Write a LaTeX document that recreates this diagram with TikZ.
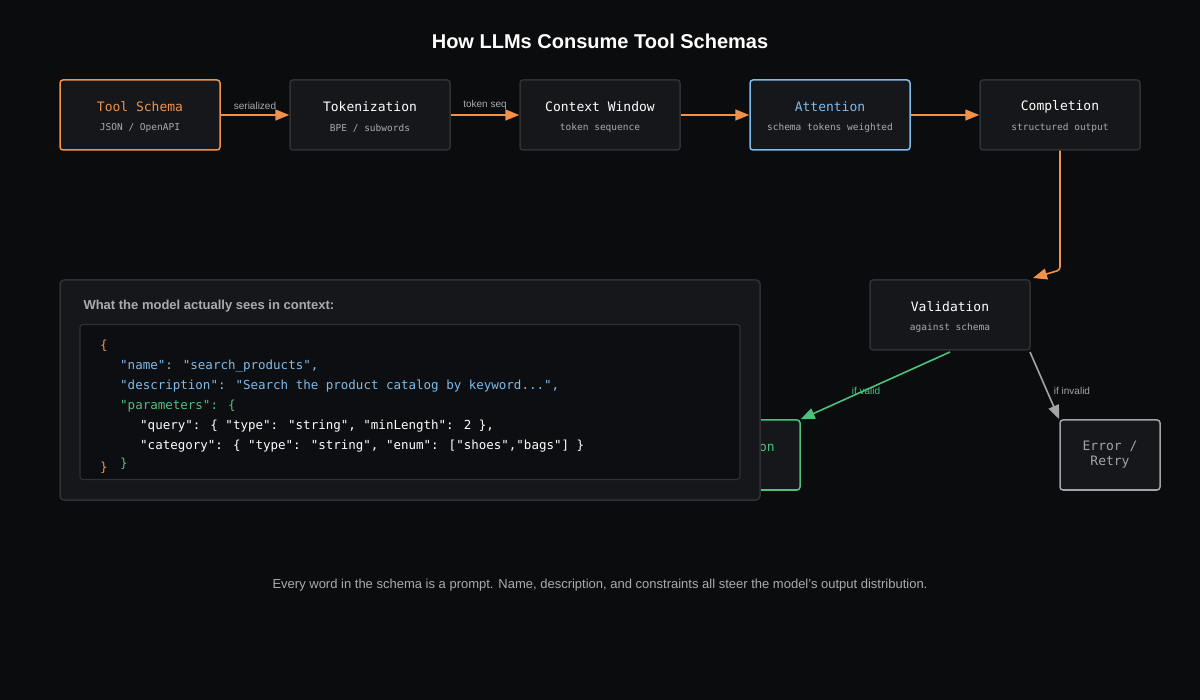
\documentclass[tikz,border=0pt]{standalone}
\usepackage{fontspec}
\setmainfont{Liberation Sans}
\newfontfamily\codefont{DejaVu Sans Mono}
\usetikzlibrary{backgrounds,arrows.meta}
\definecolor{bgdark}{HTML}{0B0C0E}
\definecolor{boxfill}{HTML}{16171B}
\definecolor{boxline}{HTML}{2E3036}
\definecolor{accorange}{HTML}{F0924A}
\definecolor{accblue}{HTML}{7DBBEB}
\definecolor{accgreen}{HTML}{4CC17E}
\definecolor{accgray}{HTML}{A2A4A8}
\definecolor{subtext}{HTML}{A9ABAF}
\definecolor{codebg}{HTML}{0D0E11}
\begin{document}
\begin{tikzpicture}[x=1pt,y=-1pt]
        %
        % `stage' is used for the pipeline boxes.
        % `flow' is used for the connectors.
        \tikzstyle{stage} = [draw=boxline,fill=boxfill,line width=1.5pt,rounded corners=3pt,minimum width=160pt,minimum height=70pt]
        \tikzstyle{flow} = [draw=accorange,line width=1.6pt,-{Triangle[length=14pt,width=11pt]}]
        \tikzstyle{title} = [font=\codefont\fontsize{13}{15}\selectfont]
        \tikzstyle{sub} = [font=\codefont\fontsize{9.5}{11}\selectfont,text=subtext]
        \tikzstyle{code} = [font=\codefont\fontsize{12.5}{14}\selectfont,anchor=west,inner sep=0pt]
        \tikzstyle{edgelab} = [font=\fontsize{10}{12}\selectfont,text=subtext]
        %
        % Background
        \fill[bgdark] (0,0) rectangle (1200,700);
        \node[font=\bfseries\fontsize{20}{24}\selectfont,text=white] (heading) at (600,41) {How LLMs Consume Tool Schemas};
        %
        % Row 1
        \node[stage,draw=accorange] (schema) at (140,115) {};
        \node[title,text=accorange] at (140,107) {Tool Schema};
        \node[sub] at (140,128) {JSON / OpenAPI};
        \node[stage] (token) at (370,115) {};
        \node[title,text=white] at (370,107) {Tokenization};
        \node[sub] at (370,128) {BPE / subwords};
        \node[stage] (context) at (600,115) {};
        \node[title,text=white] at (600,107) {Context Window};
        \node[sub] at (600,128) {token sequence};
        \node[stage,draw=accblue] (attn) at (830,115) {};
        \node[title,text=accblue] at (830,107) {Attention};
        \node[sub] at (830,128) {schema tokens weighted};
        \node[stage] (compl) at (1060,115) {};
        \node[title,text=white] at (1060,107) {Completion};
        \node[sub] at (1060,128) {structured output};
        %
        % Row 1 arrows
        \draw[flow] (schema) -- node[edgelab,above=1pt] {serialized} (token);
        \draw[flow] (token) -- node[edgelab,above=1pt] {token seq} (context);
        \draw[flow] (context) -- (attn);
        \draw[flow] (attn) -- (compl);
        %
        % Validation
        \node[stage] (valid) at (950,315) {};
        \node[title,text=white] at (950,307) {Validation};
        \node[sub] at (950,328) {against schema};
        \coordinate (bend) at (1060,270);
        \draw[flow,rounded corners=3pt] (compl.south) -- (bend) -- (1033,278);
        %
        % Outcomes
        \node[stage,draw=accgreen] (exec) at (720,455) {};
        \node[title,text=accgreen] at (720,447) {Tool Execution};
        \node[sub] at (720,468) {args validated};
        \node[stage,draw=accgray,minimum width=100pt] (err) at (1110,455) {};
        \node[title,text=accgray,align=center] at (1110,455) {Error /\\Retry};
        \coordinate (validL) at (950,352);
        \coordinate (validR) at (1030,352);
        \draw[accgreen,line width=1.6pt,-{Triangle[length=14pt,width=11pt]}] (validL) -- (exec.north east);
        \draw[accgray,line width=1.6pt,-{Triangle[length=14pt,width=11pt]}] (validR) -- (err.north west);
        \node[edgelab,text=accgreen] (lvalid) at (866,391) {if valid};
        \node[edgelab,text=accgray] (linvalid) at (1072,391) {if invalid};
        %
        % Context panel
        \node[draw=boxline,fill=boxfill,line width=1.5pt,rounded corners=4pt,minimum width=700pt,minimum height=220pt] (panel) at (410,390) {};
        \node[font=\bfseries\fontsize{13}{15}\selectfont,text=subtext,anchor=west] (caption) at (80,306) {What the model actually sees in context:};
        \node[draw=boxline,fill=codebg,line width=1.2pt,rounded corners=3pt,minimum width=660pt,minimum height=155pt] (snippet) at (410,402) {};
        \node[code,text=accorange] at (100,346) {\{};
        \node[code,text=accblue] at (120,366) {"name": "search\_products",};
        \node[code,text=accblue] at (120,386) {"description": "Search the product catalog by keyword...",};
        \node[code,text=accgreen] at (120,406) {"parameters": \{};
        \node[code,text=white] at (140,426) {"query": \{ "type": "string", "minLength": 2 \},};
        \node[code,text=white] at (140,446) {"category": \{ "type": "string", "enum": ["shoes","bags"] \}};
        \node[code,text=accgreen] at (120,464) {\}};
        \node[code,text=accorange] at (100,468) {\}};
        %
        % Footer
        \node[font=\fontsize{13}{15}\selectfont,text=subtext] (footer) at (600,585) {Every word in the schema is a prompt. Name, description, and constraints all steer the model's output distribution.};
\end{tikzpicture}
\end{document}
